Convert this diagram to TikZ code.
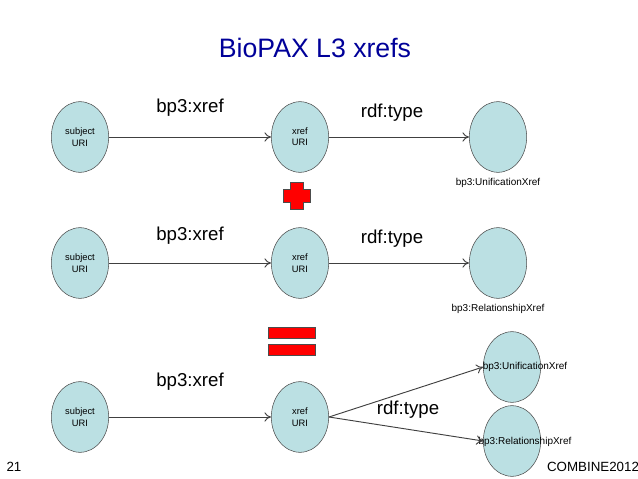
\documentclass[tikz,border=0pt]{standalone}
\usepackage{fontspec}
\setmainfont{Liberation Sans}
\usetikzlibrary{shapes.geometric,arrows.meta}
\definecolor{lightc}{RGB}{187,224,227}
\begin{document}
\begin{tikzpicture}[x=0.75pt,y=-0.75pt,
 circ/.style={draw=black!70,fill=lightc,ellipse,minimum width=43pt,minimum height=53pt,inner sep=0pt,font=\fontsize{7}{8.5}\selectfont,align=center},
 arr/.style={draw=black!75,-{To[length=5pt,width=7pt]},line width=0.7pt},
 big/.style={font=\fontsize{14}{16}\selectfont},
 small/.style={font=\fontsize{7.5}{9}\selectfont},
 redbox/.style={fill=red,draw=black!70,line width=0.5pt}]
\useasboundingbox (0,0) rectangle (638,478);
\node[font=\fontsize{20}{24}\selectfont,text=blue!60!black] (title) at (315,48) {BioPAX L3 xrefs};
\foreach \n/\x/\y/\t in {s1/80/137/{subject\\URI},x1/300/137/{xref\\URI},t1/498/137/{},s2/80/263/{subject\\URI},x2/300/263/{xref\\URI},t2/498/263/{},s3/80/417/{subject\\URI},x3/300/417/{xref\\URI}}
  \node[circ] (\n) at (\x,\y) {\t};
\node[circ] (u3) at (512,367) {};
\node[circ] (r3) at (512,441) {};
\node[small] (u3t) at (525,367) {bp3:UnificationXref};
\node[small] (r3t) at (525,442) {bp3:RelationshipXref};
\draw[arr] (s1) -- (x1); \draw[arr] (x1) -- (t1);
\draw[arr] (s2) -- (x2); \draw[arr] (x2) -- (t2);
\draw[arr] (s3) -- (x3); \draw[arr] (x3.east) -- (u3.west); \draw[arr] (x3.east) -- (r3.west);
\node[big] (l1) at (190,108) {bp3:xref};
\node[big] (l2) at (392,113) {rdf:type};
\node[big] (l3) at (190,236) {bp3:xref};
\node[big] (l4) at (392,239) {rdf:type};
\node[big] (l5) at (190,382) {bp3:xref};
\node[big] (l6) at (408,410) {rdf:type};
\node[small] (c1) at (498,183) {bp3:UnificationXref};
\node[small] (c2) at (498,309) {bp3:RelationshipXref};
\draw[redbox] (290,182)--(303,182)--(303,189)--(310,189)--(310,202)--(303,202)--(303,209)--(290,209)--(290,202)--(283,202)--(283,189)--(290,189)--cycle;
\draw[redbox] (268,327) rectangle (315,338);
\draw[redbox] (268,344) rectangle (315,355);
\node[font=\fontsize{10}{12}\selectfont] (pg) at (14,467) {21};
\node[font=\fontsize{10}{12}\selectfont] (cb) at (593,467) {COMBINE2012};
\end{tikzpicture}
\end{document}
